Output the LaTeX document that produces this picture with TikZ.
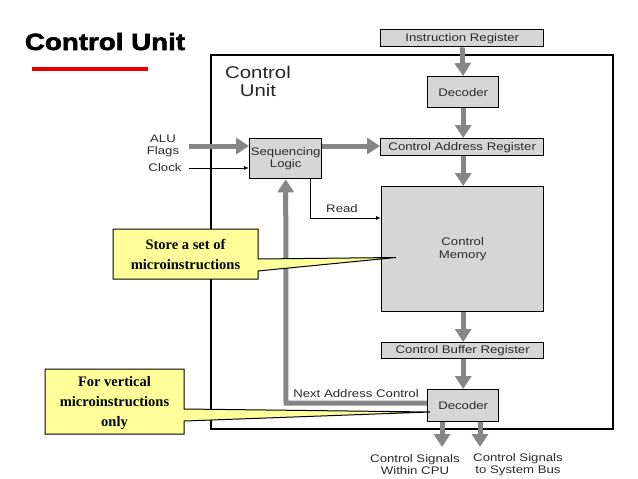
\documentclass[tikz,border=0pt]{standalone}
\usepackage{fontspec}
\setmainfont{Liberation Sans}
\newfontfamily\dfont[FakeStretch=1.2]{Liberation Sans}
\newfontfamily\tfont[FakeStretch=1.18,FakeBold=2.5]{Liberation Sans Bold}
\newfontfamily\cfont{Liberation Serif}
\usetikzlibrary{arrows.meta}
\definecolor{ga}{HTML}{868686}
\definecolor{bx}{HTML}{D6D6D6}
\definecolor{cy}{HTML}{FFFF99}
\definecolor{tx}{HTML}{2A2A2A}
\begin{document}
\begin{tikzpicture}[x=1pt,y=-1pt,
  blk/.style={draw=black, line width=1.4pt, fill=bx, inner sep=0pt, anchor=north west,
    font=\dfont\fontsize{11}{12}\selectfont, text=tx, align=center},
  lbl/.style={inner sep=0pt, font=\dfont\fontsize{11}{12}\selectfont, text=tx, align=center},
  garrow/.style={draw=ga, line width=5pt, -{Triangle[width=16pt,length=13pt]}},
  tarrow/.style={draw=black, line width=1pt, -{Latex[length=5pt,width=4pt]}},
  callout/.style={draw=black, line width=1pt, fill=cy},
  ctext/.style={inner sep=0pt, align=center, font=\cfont\bfseries\fontsize{14.5}{20}\selectfont}]
\useasboundingbox (0,0) rectangle (638,479);
\fill[white] (0,0) rectangle (638,479);

% title
\node[inner sep=0pt, anchor=base, font=\tfont\fontsize{23.5}{24}\selectfont] (title) at (105,50) {Control Unit};
\draw[draw={rgb,255:red,230;green,0;blue,0}, line width=4pt] (32,69) -- (148,69);

% frame
\draw[line width=1.6pt] (211,55) rectangle (613,429);
\node[lbl, font=\dfont\fontsize{17}{18}\selectfont, text=black!85] (culbl) at (258,81) {Control\\Unit};

% boxes
\node[blk, minimum width=163pt, minimum height=17pt] (ir) at (380,29) {Instruction Register};
\node[blk, minimum width=71pt, minimum height=31pt] (dec1) at (427,76) {Decoder};
\node[blk, minimum width=163pt, minimum height=17pt] (car) at (380,138) {Control Address Register};
\node[blk, minimum width=72pt, minimum height=40pt] (seq) at (249,138) {Sequencing\\Logic};
\node[blk, minimum width=162pt, minimum height=125pt, font=\dfont\fontsize{11}{13}\selectfont] (cm) at (381,186) {Control\\Memory};
\node[blk, minimum width=162pt, minimum height=16pt] (cbr) at (381,342) {Control Buffer Register};
\node[blk, minimum width=71pt, minimum height=32pt] (dec2) at (427,389) {Decoder};

% vertical flow
\draw[garrow] (ir.south) -- (dec1.north);
\draw[garrow] (dec1.south) -- (car.north -| dec1.south);
\draw[garrow] (car.south -| dec1.south) -- (cm.north -| dec1.south);
\draw[garrow] (cm.south -| dec1.south) -- (cbr.north -| dec1.south);
\draw[garrow] (cbr.south -| dec1.south) -- (dec2.north);

% inputs
\node[lbl] (alu) at (163,145.5) {ALU\\Flags};
\node[lbl] (clk) at (165,168) {Clock};
\coordinate (alus) at (189,146);
\coordinate (clks) at (189,168);
\draw[garrow] (alus) -- (alus -| seq.west);
\draw[tarrow] (clks) -- (clks -| seq.west);

% seq -> car
\draw[garrow] (seq.east |- alus) -- (car.west |- alus);

% read
\coordinate (rd) at (310,218);
\draw[tarrow] (rd |- seq.south) -- (rd) -- (rd -| cm.west);
\node[lbl] (readl) at (342,209) {Read};

% next address control
\coordinate (nac) at (286,403);
\draw[garrow, line join=miter] (dec2.west |- nac) -- (nac) -- (seq.south);
\node[lbl] (nacl) at (356,394) {Next Address Control};

% outputs
\coordinate (o1) at (442,447);
\coordinate (o2) at (480,447);
\draw[garrow] (o1 |- dec2.south) -- (o1);
\draw[garrow] (o2 |- dec2.south) -- (o2);
\node[lbl] (out1) at (415,464.5) {Control Signals\\Within CPU};
\node[lbl] (out2) at (518,464.5) {Control Signals\\to System Bus};

% callouts
\draw[callout] (113,229) -- (258,229) -- (258,259) -- (396,257.5) -- (258,271) -- (258,279) -- (113,279) -- cycle;
\node[ctext] (c1) at (185.5,254) {Store a set of\\microinstructions};
\draw[callout] (45,369) -- (184,369) -- (184,409) -- (430,412) -- (184,421) -- (184,434) -- (45,434) -- cycle;
\node[ctext] (c2) at (114.5,403) {For vertical\\microinstructions\\only};
\end{tikzpicture}
\end{document}
